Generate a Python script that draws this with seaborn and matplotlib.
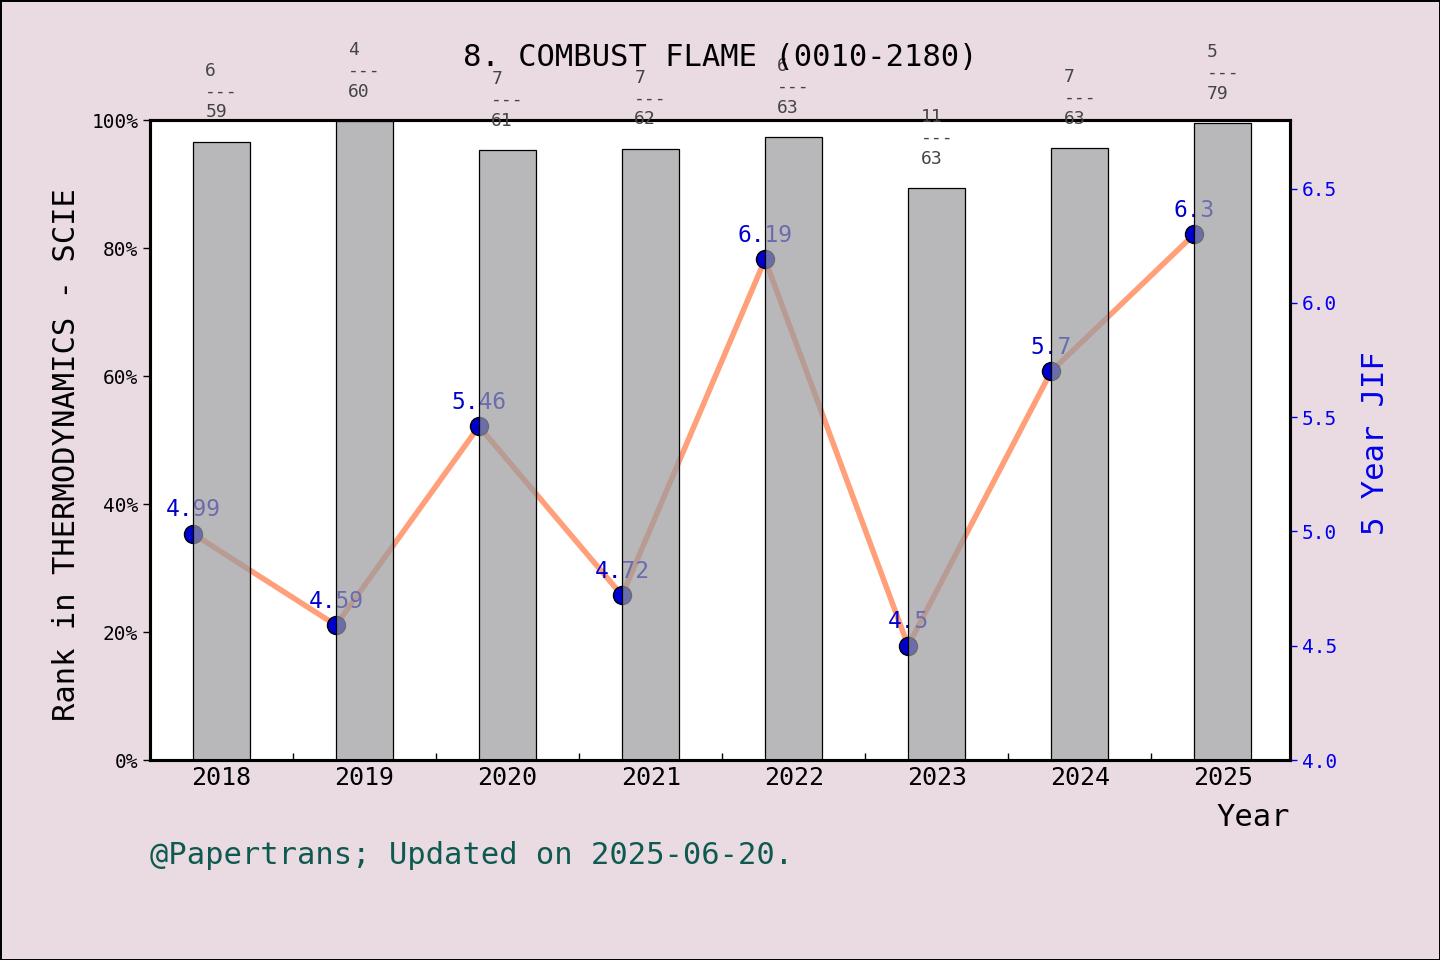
import numpy as np
import matplotlib
matplotlib.use("Agg")
import matplotlib.pyplot as plt
import seaborn as sns
from matplotlib.ticker import FixedLocator, PercentFormatter

# données
years = [2018, 2019, 2020, 2021, 2022, 2023, 2024, 2025]
rank_pct = [96.6, 99.8, 95.3, 95.5, 97.3, 89.3, 95.6, 99.5]
rank_num = [6, 4, 7, 7, 6, 11, 7, 5]
rank_tot = [59, 60, 61, 62, 63, 63, 63, 79]
jif5 = [4.99, 4.59, 5.46, 4.72, 6.19, 4.5, 5.7, 6.3]

sns.set_style("white")
mono = "DejaVu Sans Mono"
plt.rcParams["font.family"] = [mono, "DejaVu Sans"]
plt.rcParams["text.color"] = "black"
plt.rcParams["xtick.color"] = "black"
plt.rcParams["ytick.color"] = "black"
plt.rcParams["axes.labelcolor"] = "black"

fig = plt.figure(figsize=(14.4, 9.6), dpi=100, facecolor="#EADBE3",
                 edgecolor="black", linewidth=2)
ax_jif = fig.add_axes([150 / 1440, 200 / 960, 1140 / 1440, 640 / 960])
ax_jif.set_facecolor("white")
ax_rank = ax_jif.twinx()

yr = np.array(years, dtype=float)

# courbe 5 Year JIF (sous les barres)
sns.lineplot(x=yr, y=jif5, ax=ax_jif, color="#FFA07A", linewidth=4,
             marker="o", markersize=13, markerfacecolor="#0000CC",
             markeredgecolor="black", markeredgewidth=1)
for x, v in zip(yr, jif5):
    ax_jif.annotate(str(v), (x, v), xytext=(0, 9), textcoords="offset points",
                    ha="center", va="bottom", color="#0000CC", fontsize=16.5,
                    family=mono)

# barres du rang (au-dessus, semi-transparentes)
sns.barplot(x=yr + 0.2, y=rank_pct, ax=ax_rank, native_scale=True, width=0.4,
            color="#9A9B9E", edgecolor="black", linewidth=0.9, saturation=1)
for p in ax_rank.patches:
    p.set_alpha(None)
    p.set_facecolor((0.604, 0.608, 0.620, 0.7))
    p.set_edgecolor((0, 0, 0, 1))
for x, h, r, t in zip(yr, rank_pct, rank_num, rank_tot):
    ax_rank.text(x + 0.2, h + 3.2, f"{r}\n---\n{t}", ha="center", va="bottom",
                 multialignment="left", color="#444444", fontsize=13,
                 family=mono, clip_on=False)

ax_jif.set_xlim(2017.7, 2025.67)
ax_jif.set_ylim(4.0, 6.8)
ax_rank.set_ylim(0, 100)

# axe de droite : JIF
ax_jif.yaxis.tick_right()
ax_jif.set_yticks([4.0, 4.5, 5.0, 5.5, 6.0, 6.5])
ax_jif.set_yticklabels(["4.0", "4.5", "5.0", "5.5", "6.0", "6.5"])
ax_jif.tick_params(axis="y", colors="#0000EE", labelsize=14, length=5,
                   width=1, direction="out", right=True, left=False)
ax_jif.set_ylabel("")

# axe de gauche : rang
ax_rank.yaxis.tick_left()
ax_rank.set_yticks([0, 20, 40, 60, 80, 100])
ax_rank.yaxis.set_major_formatter(PercentFormatter(decimals=0))
ax_rank.tick_params(axis="y", colors="black", labelsize=14, length=5,
                    width=1, direction="out", left=True, right=False)
ax_rank.set_ylabel("")

# axe x
ax_jif.set_xticks(yr + 0.2)
ax_jif.set_xticklabels([str(y) for y in years])
ax_jif.xaxis.set_minor_locator(FixedLocator(yr + 0.7))
ax_jif.tick_params(axis="x", which="major", length=0, labelsize=18, pad=4,
                   colors="black")
ax_jif.tick_params(axis="x", which="minor", length=5, width=1,
                   direction="in", bottom=True, colors="black")
ax_rank.tick_params(axis="x", length=0, labelbottom=False)
ax_rank.set_xlabel("")
ax_jif.set_xlabel("")

for a in (ax_jif, ax_rank):
    for s in a.spines.values():
        s.set_visible(True)
        s.set_color("black")
        s.set_linewidth(2.2)

# textes
fig.text(0.5, 1 - 57 / 960, "8. COMBUST FLAME (0010-2180)", ha="center",
         va="center", fontsize=22, family=mono, color="black")
fig.text(67 / 1440, 1 - 455 / 960, "Rank in THERMODYNAMICS - SCIE",
         rotation=90, ha="center", va="center", fontsize=22, family=mono,
         color="black")
fig.text(1375 / 1440, 1 - 443 / 960, "5 Year JIF", rotation=90,
         ha="center", va="center", fontsize=22, family=mono, color="#0000EE")
fig.text(1290 / 1440, 1 - 817 / 960, "Year", ha="right", va="center",
         fontsize=22, family=mono, color="black")
fig.text(150 / 1440, 1 - 855 / 960, "@Papertrans; Updated on 2025-06-20.",
         ha="left", va="center", fontsize=22, family=mono, color="#0F5A50")

fig.savefig("out.png", dpi=100, facecolor=fig.get_facecolor(),
            edgecolor="black")
